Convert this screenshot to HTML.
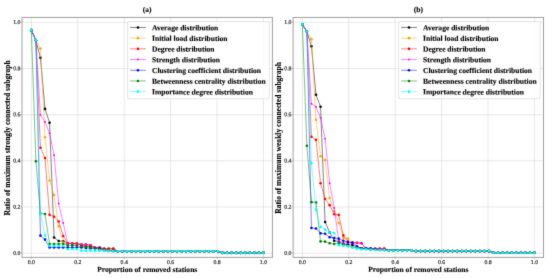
<!DOCTYPE html>
<html><head><meta charset="utf-8"><title>Figure</title>
<style>
html,body{margin:0;padding:0;background:#fff;}
svg{display:block;}
.bd{font-family:"Liberation Serif","Times New Roman",serif;font-weight:bold;font-size:7.55px;fill:#000;stroke:#000;stroke-width:0.12px;}
.tk{font-family:"Liberation Serif","Times New Roman",serif;font-size:5.8px;fill:#222;stroke:#222;stroke-width:0.18px;}
</style></head>
<body>
<svg width="550" height="278" viewBox="0 0 550 278">
<defs><filter id="bl" x="0" y="0" width="550" height="278" filterUnits="userSpaceOnUse" color-interpolation-filters="sRGB"><feConvolveMatrix order="3" kernelMatrix="0.01832 0.13534 0.01832 0.13534 1.00000 0.13534 0.01832 0.13534 0.01832" edgeMode="duplicate"/></filter></defs>
<g filter="url(#bl)">
<rect width="550" height="278" fill="#fff"/>
<line x1="31.35" y1="17.45" x2="31.35" y2="257.4" stroke="#d9d9d9" stroke-width="0.6"/>
<line x1="22" y1="253.2" x2="272.4" y2="253.2" stroke="#d9d9d9" stroke-width="0.6"/>
<line x1="77.77" y1="17.45" x2="77.77" y2="257.4" stroke="#d9d9d9" stroke-width="0.6"/>
<line x1="22" y1="207.02" x2="272.4" y2="207.02" stroke="#d9d9d9" stroke-width="0.6"/>
<line x1="124.19" y1="17.45" x2="124.19" y2="257.4" stroke="#d9d9d9" stroke-width="0.6"/>
<line x1="22" y1="160.84" x2="272.4" y2="160.84" stroke="#d9d9d9" stroke-width="0.6"/>
<line x1="170.61" y1="17.45" x2="170.61" y2="257.4" stroke="#d9d9d9" stroke-width="0.6"/>
<line x1="22" y1="114.66" x2="272.4" y2="114.66" stroke="#d9d9d9" stroke-width="0.6"/>
<line x1="217.03" y1="17.45" x2="217.03" y2="257.4" stroke="#d9d9d9" stroke-width="0.6"/>
<line x1="22" y1="68.48" x2="272.4" y2="68.48" stroke="#d9d9d9" stroke-width="0.6"/>
<line x1="263.45" y1="17.45" x2="263.45" y2="257.4" stroke="#d9d9d9" stroke-width="0.6"/>
<line x1="22" y1="22.3" x2="272.4" y2="22.3" stroke="#d9d9d9" stroke-width="0.6"/>
<clipPath id="clipa"><rect x="22" y="17.45" width="250.4" height="239.95"/></clipPath>
<g clip-path="url(#clipa)">
<polyline points="31.35,30.15 35.9,40.31 40.45,57.86 45,108.89 49.55,122.74 54.1,237.5 58.66,240.96 63.21,241.19 67.76,243.27 72.31,243.5 76.86,243.73 81.41,245.35 85.96,246.27 90.51,246.27 95.06,247.43 99.61,247.43 104.17,248.81 108.72,248.81 113.27,248.81 117.82,251.35 122.37,251.35 126.92,251.35 131.47,251.35 136.02,251.35 140.57,251.35 145.12,251.35 149.68,251.35 154.23,251.35 158.78,251.35 163.33,251.35 167.88,251.35 172.43,251.35 176.98,251.35 181.53,251.35 186.08,251.35 190.63,251.35 195.19,251.35 199.74,251.35 204.29,251.35 208.84,251.35 213.39,251.35 217.94,251.35 222.49,252.85 227.04,252.85 231.59,252.85 236.14,252.85 240.7,252.85 245.25,252.85 249.8,252.85 254.35,252.85 258.9,252.85 263.45,252.85" fill="none" stroke="#000000" stroke-width="0.5" stroke-linejoin="round"/>
<g fill="#000000"><circle cx="31.35" cy="30.15" r="1.3"/><circle cx="35.9" cy="40.31" r="1.3"/><circle cx="40.45" cy="57.86" r="1.3"/><circle cx="45" cy="108.89" r="1.3"/><circle cx="49.55" cy="122.74" r="1.3"/><circle cx="54.1" cy="237.5" r="1.3"/><circle cx="58.66" cy="240.96" r="1.3"/><circle cx="63.21" cy="241.19" r="1.3"/><circle cx="67.76" cy="243.27" r="1.3"/><circle cx="72.31" cy="243.5" r="1.3"/><circle cx="76.86" cy="243.73" r="1.3"/><circle cx="81.41" cy="245.35" r="1.3"/><circle cx="85.96" cy="246.27" r="1.3"/><circle cx="90.51" cy="246.27" r="1.3"/><circle cx="95.06" cy="247.43" r="1.3"/><circle cx="99.61" cy="247.43" r="1.3"/><circle cx="104.17" cy="248.81" r="1.3"/><circle cx="108.72" cy="248.81" r="1.3"/><circle cx="113.27" cy="248.81" r="1.3"/><circle cx="117.82" cy="251.35" r="1.3"/><circle cx="122.37" cy="251.35" r="1.3"/><circle cx="126.92" cy="251.35" r="1.3"/><circle cx="131.47" cy="251.35" r="1.3"/><circle cx="136.02" cy="251.35" r="1.3"/><circle cx="140.57" cy="251.35" r="1.3"/><circle cx="145.12" cy="251.35" r="1.3"/><circle cx="149.68" cy="251.35" r="1.3"/><circle cx="154.23" cy="251.35" r="1.3"/><circle cx="158.78" cy="251.35" r="1.3"/><circle cx="163.33" cy="251.35" r="1.3"/><circle cx="167.88" cy="251.35" r="1.3"/><circle cx="172.43" cy="251.35" r="1.3"/><circle cx="176.98" cy="251.35" r="1.3"/><circle cx="181.53" cy="251.35" r="1.3"/><circle cx="186.08" cy="251.35" r="1.3"/><circle cx="190.63" cy="251.35" r="1.3"/><circle cx="195.19" cy="251.35" r="1.3"/><circle cx="199.74" cy="251.35" r="1.3"/><circle cx="204.29" cy="251.35" r="1.3"/><circle cx="208.84" cy="251.35" r="1.3"/><circle cx="213.39" cy="251.35" r="1.3"/><circle cx="217.94" cy="251.35" r="1.3"/><circle cx="222.49" cy="252.85" r="1.3"/><circle cx="227.04" cy="252.85" r="1.3"/><circle cx="231.59" cy="252.85" r="1.3"/><circle cx="236.14" cy="252.85" r="1.3"/><circle cx="240.7" cy="252.85" r="1.3"/><circle cx="245.25" cy="252.85" r="1.3"/><circle cx="249.8" cy="252.85" r="1.3"/><circle cx="254.35" cy="252.85" r="1.3"/><circle cx="258.9" cy="252.85" r="1.3"/><circle cx="263.45" cy="252.85" r="1.3"/></g>
<polyline points="31.35,30.15 35.9,40.31 40.45,48.62 45,137.29 49.55,180.47 54.1,195.01 58.66,226.18 63.21,242.58 67.76,243.27 72.31,243.04 76.86,243.04 81.41,244.43 85.96,244.43 90.51,245.12 95.06,247.43 99.61,247.43 104.17,249.27 108.72,249.27 113.27,249.27 117.82,251.35 122.37,251.35 126.92,251.35 131.47,251.35 136.02,251.35 140.57,251.35 145.12,251.35 149.68,251.35 154.23,251.35 158.78,251.35 163.33,251.35 167.88,251.35 172.43,251.35 176.98,251.35 181.53,251.35 186.08,251.35 190.63,251.35 195.19,251.35 199.74,251.35 204.29,251.35 208.84,251.35 213.39,251.35 217.94,251.35 222.49,252.85 227.04,252.85 231.59,252.85 236.14,252.85 240.7,252.85 245.25,252.85 249.8,252.85 254.35,252.85 258.9,252.85 263.45,252.85" fill="none" stroke="#ffa500" stroke-width="0.5" stroke-linejoin="round"/>
<g fill="#ffa500"><circle cx="31.35" cy="30.15" r="1.3"/><circle cx="35.9" cy="40.31" r="1.3"/><circle cx="40.45" cy="48.62" r="1.3"/><circle cx="45" cy="137.29" r="1.3"/><circle cx="49.55" cy="180.47" r="1.3"/><circle cx="54.1" cy="195.01" r="1.3"/><circle cx="58.66" cy="226.18" r="1.3"/><circle cx="63.21" cy="242.58" r="1.3"/><circle cx="67.76" cy="243.27" r="1.3"/><circle cx="72.31" cy="243.04" r="1.3"/><circle cx="76.86" cy="243.04" r="1.3"/><circle cx="81.41" cy="244.43" r="1.3"/><circle cx="85.96" cy="244.43" r="1.3"/><circle cx="90.51" cy="245.12" r="1.3"/><circle cx="95.06" cy="247.43" r="1.3"/><circle cx="99.61" cy="247.43" r="1.3"/><circle cx="104.17" cy="249.27" r="1.3"/><circle cx="108.72" cy="249.27" r="1.3"/><circle cx="113.27" cy="249.27" r="1.3"/><circle cx="117.82" cy="251.35" r="1.3"/><circle cx="122.37" cy="251.35" r="1.3"/><circle cx="126.92" cy="251.35" r="1.3"/><circle cx="131.47" cy="251.35" r="1.3"/><circle cx="136.02" cy="251.35" r="1.3"/><circle cx="140.57" cy="251.35" r="1.3"/><circle cx="145.12" cy="251.35" r="1.3"/><circle cx="149.68" cy="251.35" r="1.3"/><circle cx="154.23" cy="251.35" r="1.3"/><circle cx="158.78" cy="251.35" r="1.3"/><circle cx="163.33" cy="251.35" r="1.3"/><circle cx="167.88" cy="251.35" r="1.3"/><circle cx="172.43" cy="251.35" r="1.3"/><circle cx="176.98" cy="251.35" r="1.3"/><circle cx="181.53" cy="251.35" r="1.3"/><circle cx="186.08" cy="251.35" r="1.3"/><circle cx="190.63" cy="251.35" r="1.3"/><circle cx="195.19" cy="251.35" r="1.3"/><circle cx="199.74" cy="251.35" r="1.3"/><circle cx="204.29" cy="251.35" r="1.3"/><circle cx="208.84" cy="251.35" r="1.3"/><circle cx="213.39" cy="251.35" r="1.3"/><circle cx="217.94" cy="251.35" r="1.3"/><circle cx="222.49" cy="252.85" r="1.3"/><circle cx="227.04" cy="252.85" r="1.3"/><circle cx="231.59" cy="252.85" r="1.3"/><circle cx="236.14" cy="252.85" r="1.3"/><circle cx="240.7" cy="252.85" r="1.3"/><circle cx="245.25" cy="252.85" r="1.3"/><circle cx="249.8" cy="252.85" r="1.3"/><circle cx="254.35" cy="252.85" r="1.3"/><circle cx="258.9" cy="252.85" r="1.3"/><circle cx="263.45" cy="252.85" r="1.3"/></g>
<polyline points="31.35,30.15 35.9,40.31 40.45,147.68 45,158.07 49.55,214.87 54.1,216.72 58.66,221.57 63.21,236.11 67.76,243.27 72.31,243.5 76.86,243.5 81.41,244.66 85.96,244.66 90.51,245.35 95.06,247.89 99.61,247.89 104.17,248.81 108.72,248.81 113.27,248.81 117.82,251.35 122.37,251.35 126.92,251.35 131.47,251.35 136.02,251.35 140.57,251.35 145.12,251.35 149.68,251.35 154.23,251.35 158.78,251.35 163.33,251.35 167.88,251.35 172.43,251.35 176.98,251.35 181.53,251.35 186.08,251.35 190.63,251.35 195.19,251.35 199.74,251.35 204.29,251.35 208.84,251.35 213.39,251.35 217.94,251.35 222.49,252.85 227.04,252.85 231.59,252.85 236.14,252.85 240.7,252.85 245.25,252.85 249.8,252.85 254.35,252.85 258.9,252.85 263.45,252.85" fill="none" stroke="#ff0000" stroke-width="0.5" stroke-linejoin="round"/>
<g fill="#ff0000"><circle cx="31.35" cy="30.15" r="1.3"/><circle cx="35.9" cy="40.31" r="1.3"/><circle cx="40.45" cy="147.68" r="1.3"/><circle cx="45" cy="158.07" r="1.3"/><circle cx="49.55" cy="214.87" r="1.3"/><circle cx="54.1" cy="216.72" r="1.3"/><circle cx="58.66" cy="221.57" r="1.3"/><circle cx="63.21" cy="236.11" r="1.3"/><circle cx="67.76" cy="243.27" r="1.3"/><circle cx="72.31" cy="243.5" r="1.3"/><circle cx="76.86" cy="243.5" r="1.3"/><circle cx="81.41" cy="244.66" r="1.3"/><circle cx="85.96" cy="244.66" r="1.3"/><circle cx="90.51" cy="245.35" r="1.3"/><circle cx="95.06" cy="247.89" r="1.3"/><circle cx="99.61" cy="247.89" r="1.3"/><circle cx="104.17" cy="248.81" r="1.3"/><circle cx="108.72" cy="248.81" r="1.3"/><circle cx="113.27" cy="248.81" r="1.3"/><circle cx="117.82" cy="251.35" r="1.3"/><circle cx="122.37" cy="251.35" r="1.3"/><circle cx="126.92" cy="251.35" r="1.3"/><circle cx="131.47" cy="251.35" r="1.3"/><circle cx="136.02" cy="251.35" r="1.3"/><circle cx="140.57" cy="251.35" r="1.3"/><circle cx="145.12" cy="251.35" r="1.3"/><circle cx="149.68" cy="251.35" r="1.3"/><circle cx="154.23" cy="251.35" r="1.3"/><circle cx="158.78" cy="251.35" r="1.3"/><circle cx="163.33" cy="251.35" r="1.3"/><circle cx="167.88" cy="251.35" r="1.3"/><circle cx="172.43" cy="251.35" r="1.3"/><circle cx="176.98" cy="251.35" r="1.3"/><circle cx="181.53" cy="251.35" r="1.3"/><circle cx="186.08" cy="251.35" r="1.3"/><circle cx="190.63" cy="251.35" r="1.3"/><circle cx="195.19" cy="251.35" r="1.3"/><circle cx="199.74" cy="251.35" r="1.3"/><circle cx="204.29" cy="251.35" r="1.3"/><circle cx="208.84" cy="251.35" r="1.3"/><circle cx="213.39" cy="251.35" r="1.3"/><circle cx="217.94" cy="251.35" r="1.3"/><circle cx="222.49" cy="252.85" r="1.3"/><circle cx="227.04" cy="252.85" r="1.3"/><circle cx="231.59" cy="252.85" r="1.3"/><circle cx="236.14" cy="252.85" r="1.3"/><circle cx="240.7" cy="252.85" r="1.3"/><circle cx="245.25" cy="252.85" r="1.3"/><circle cx="249.8" cy="252.85" r="1.3"/><circle cx="254.35" cy="252.85" r="1.3"/><circle cx="258.9" cy="252.85" r="1.3"/><circle cx="263.45" cy="252.85" r="1.3"/></g>
<polyline points="31.35,30.15 35.9,40.31 40.45,114.89 45,122.05 49.55,133.13 54.1,155.3 58.66,203.56 63.21,222.95 67.76,243.27 72.31,243.96 76.86,243.96 81.41,244.31 85.96,244.31 90.51,244.89 95.06,247.43 99.61,247.66 104.17,250.66 108.72,250.66 113.27,250.66 117.82,251.35 122.37,251.35 126.92,251.35 131.47,251.35 136.02,251.35 140.57,251.35 145.12,251.35 149.68,251.35 154.23,251.35 158.78,251.35 163.33,251.35 167.88,251.35 172.43,251.35 176.98,251.35 181.53,251.35 186.08,251.35 190.63,251.35 195.19,251.35 199.74,251.35 204.29,251.35 208.84,251.35 213.39,251.35 217.94,251.35 222.49,252.85 227.04,252.85 231.59,252.85 236.14,252.85 240.7,252.85 245.25,252.85 249.8,252.85 254.35,252.85 258.9,252.85 263.45,252.85" fill="none" stroke="#ff00ff" stroke-width="0.5" stroke-linejoin="round"/>
<g fill="#ff00ff"><circle cx="31.35" cy="30.15" r="0.95"/><circle cx="35.9" cy="40.31" r="0.95"/><circle cx="40.45" cy="114.89" r="0.95"/><circle cx="45" cy="122.05" r="0.95"/><circle cx="49.55" cy="133.13" r="0.95"/><circle cx="54.1" cy="155.3" r="0.95"/><circle cx="58.66" cy="203.56" r="0.95"/><circle cx="63.21" cy="222.95" r="0.95"/><circle cx="67.76" cy="243.27" r="0.95"/><circle cx="72.31" cy="243.96" r="0.95"/><circle cx="76.86" cy="243.96" r="0.95"/><circle cx="81.41" cy="244.31" r="0.95"/><circle cx="85.96" cy="244.31" r="0.95"/><circle cx="90.51" cy="244.89" r="0.95"/><circle cx="95.06" cy="247.43" r="0.95"/><circle cx="99.61" cy="247.66" r="0.95"/><circle cx="104.17" cy="250.66" r="0.95"/><circle cx="108.72" cy="250.66" r="0.95"/><circle cx="113.27" cy="250.66" r="0.95"/><circle cx="117.82" cy="251.35" r="0.95"/><circle cx="122.37" cy="251.35" r="0.95"/><circle cx="126.92" cy="251.35" r="0.95"/><circle cx="131.47" cy="251.35" r="0.95"/><circle cx="136.02" cy="251.35" r="0.95"/><circle cx="140.57" cy="251.35" r="0.95"/><circle cx="145.12" cy="251.35" r="0.95"/><circle cx="149.68" cy="251.35" r="0.95"/><circle cx="154.23" cy="251.35" r="0.95"/><circle cx="158.78" cy="251.35" r="0.95"/><circle cx="163.33" cy="251.35" r="0.95"/><circle cx="167.88" cy="251.35" r="0.95"/><circle cx="172.43" cy="251.35" r="0.95"/><circle cx="176.98" cy="251.35" r="0.95"/><circle cx="181.53" cy="251.35" r="0.95"/><circle cx="186.08" cy="251.35" r="0.95"/><circle cx="190.63" cy="251.35" r="0.95"/><circle cx="195.19" cy="251.35" r="0.95"/><circle cx="199.74" cy="251.35" r="0.95"/><circle cx="204.29" cy="251.35" r="0.95"/><circle cx="208.84" cy="251.35" r="0.95"/><circle cx="213.39" cy="251.35" r="0.95"/><circle cx="217.94" cy="251.35" r="0.95"/><circle cx="222.49" cy="252.85" r="0.95"/><circle cx="227.04" cy="252.85" r="0.95"/><circle cx="231.59" cy="252.85" r="0.95"/><circle cx="236.14" cy="252.85" r="0.95"/><circle cx="240.7" cy="252.85" r="0.95"/><circle cx="245.25" cy="252.85" r="0.95"/><circle cx="249.8" cy="252.85" r="0.95"/><circle cx="254.35" cy="252.85" r="0.95"/><circle cx="258.9" cy="252.85" r="0.95"/><circle cx="263.45" cy="252.85" r="0.95"/></g>
<polyline points="31.35,30.15 35.9,40.31 40.45,235.65 45,239.58 49.55,247.43 54.1,247.43 58.66,247.43 63.21,247.43 67.76,247.43 72.31,247.43 76.86,247.43 81.41,247.43 85.96,247.89 90.51,248.35 95.06,248.35 99.61,248.35 104.17,249.74 108.72,250.43 113.27,250.89 117.82,251.35 122.37,251.35 126.92,251.35 131.47,251.35 136.02,251.35 140.57,251.35 145.12,251.35 149.68,251.35 154.23,251.35 158.78,251.35 163.33,251.35 167.88,251.35 172.43,251.35 176.98,251.35 181.53,251.35 186.08,251.35 190.63,251.35 195.19,251.35 199.74,251.35 204.29,251.35 208.84,251.35 213.39,251.35 217.94,251.35 222.49,252.85 227.04,252.85 231.59,252.85 236.14,252.85 240.7,252.85 245.25,252.85 249.8,252.85 254.35,252.85 258.9,252.85 263.45,252.85" fill="none" stroke="#0000ff" stroke-width="0.5" stroke-linejoin="round"/>
<g fill="#0000ff"><circle cx="31.35" cy="30.15" r="1.3"/><circle cx="35.9" cy="40.31" r="1.3"/><circle cx="40.45" cy="235.65" r="1.3"/><circle cx="45" cy="239.58" r="1.3"/><circle cx="49.55" cy="247.43" r="1.3"/><circle cx="54.1" cy="247.43" r="1.3"/><circle cx="58.66" cy="247.43" r="1.3"/><circle cx="63.21" cy="247.43" r="1.3"/><circle cx="67.76" cy="247.43" r="1.3"/><circle cx="72.31" cy="247.43" r="1.3"/><circle cx="76.86" cy="247.43" r="1.3"/><circle cx="81.41" cy="247.43" r="1.3"/><circle cx="85.96" cy="247.89" r="1.3"/><circle cx="90.51" cy="248.35" r="1.3"/><circle cx="95.06" cy="248.35" r="1.3"/><circle cx="99.61" cy="248.35" r="1.3"/><circle cx="104.17" cy="249.74" r="1.3"/><circle cx="108.72" cy="250.43" r="1.3"/><circle cx="113.27" cy="250.89" r="1.3"/><circle cx="117.82" cy="251.35" r="1.3"/><circle cx="122.37" cy="251.35" r="1.3"/><circle cx="126.92" cy="251.35" r="1.3"/><circle cx="131.47" cy="251.35" r="1.3"/><circle cx="136.02" cy="251.35" r="1.3"/><circle cx="140.57" cy="251.35" r="1.3"/><circle cx="145.12" cy="251.35" r="1.3"/><circle cx="149.68" cy="251.35" r="1.3"/><circle cx="154.23" cy="251.35" r="1.3"/><circle cx="158.78" cy="251.35" r="1.3"/><circle cx="163.33" cy="251.35" r="1.3"/><circle cx="167.88" cy="251.35" r="1.3"/><circle cx="172.43" cy="251.35" r="1.3"/><circle cx="176.98" cy="251.35" r="1.3"/><circle cx="181.53" cy="251.35" r="1.3"/><circle cx="186.08" cy="251.35" r="1.3"/><circle cx="190.63" cy="251.35" r="1.3"/><circle cx="195.19" cy="251.35" r="1.3"/><circle cx="199.74" cy="251.35" r="1.3"/><circle cx="204.29" cy="251.35" r="1.3"/><circle cx="208.84" cy="251.35" r="1.3"/><circle cx="213.39" cy="251.35" r="1.3"/><circle cx="217.94" cy="251.35" r="1.3"/><circle cx="222.49" cy="252.85" r="1.3"/><circle cx="227.04" cy="252.85" r="1.3"/><circle cx="231.59" cy="252.85" r="1.3"/><circle cx="236.14" cy="252.85" r="1.3"/><circle cx="240.7" cy="252.85" r="1.3"/><circle cx="245.25" cy="252.85" r="1.3"/><circle cx="249.8" cy="252.85" r="1.3"/><circle cx="254.35" cy="252.85" r="1.3"/><circle cx="258.9" cy="252.85" r="1.3"/><circle cx="263.45" cy="252.85" r="1.3"/></g>
<polyline points="31.35,30.15 35.9,161.3 40.45,213.49 45,213.95 49.55,243.96 54.1,243.96 58.66,243.96 63.21,243.96 67.76,245.35 72.31,245.35 76.86,245.81 81.41,246.5 85.96,246.73 90.51,247.43 95.06,248.58 99.61,249.27 104.17,250.66 108.72,250.89 113.27,251.12 117.82,251.35 122.37,251.35 126.92,251.35 131.47,251.35 136.02,251.35 140.57,251.35 145.12,251.35 149.68,251.35 154.23,251.35 158.78,251.35 163.33,251.35 167.88,251.35 172.43,251.35 176.98,251.35 181.53,251.35 186.08,251.35 190.63,251.35 195.19,251.35 199.74,251.35 204.29,251.35 208.84,251.35 213.39,251.35 217.94,251.35 222.49,252.85 227.04,252.85 231.59,252.85 236.14,252.85 240.7,252.85 245.25,252.85 249.8,252.85 254.35,252.85 258.9,252.85 263.45,252.85" fill="none" stroke="#008000" stroke-width="0.5" stroke-linejoin="round"/>
<g fill="#008000"><circle cx="31.35" cy="30.15" r="1.3"/><circle cx="35.9" cy="161.3" r="1.3"/><circle cx="40.45" cy="213.49" r="1.3"/><circle cx="45" cy="213.95" r="1.3"/><circle cx="49.55" cy="243.96" r="1.3"/><circle cx="54.1" cy="243.96" r="1.3"/><circle cx="58.66" cy="243.96" r="1.3"/><circle cx="63.21" cy="243.96" r="1.3"/><circle cx="67.76" cy="245.35" r="1.3"/><circle cx="72.31" cy="245.35" r="1.3"/><circle cx="76.86" cy="245.81" r="1.3"/><circle cx="81.41" cy="246.5" r="1.3"/><circle cx="85.96" cy="246.73" r="1.3"/><circle cx="90.51" cy="247.43" r="1.3"/><circle cx="95.06" cy="248.58" r="1.3"/><circle cx="99.61" cy="249.27" r="1.3"/><circle cx="104.17" cy="250.66" r="1.3"/><circle cx="108.72" cy="250.89" r="1.3"/><circle cx="113.27" cy="251.12" r="1.3"/><circle cx="117.82" cy="251.35" r="1.3"/><circle cx="122.37" cy="251.35" r="1.3"/><circle cx="126.92" cy="251.35" r="1.3"/><circle cx="131.47" cy="251.35" r="1.3"/><circle cx="136.02" cy="251.35" r="1.3"/><circle cx="140.57" cy="251.35" r="1.3"/><circle cx="145.12" cy="251.35" r="1.3"/><circle cx="149.68" cy="251.35" r="1.3"/><circle cx="154.23" cy="251.35" r="1.3"/><circle cx="158.78" cy="251.35" r="1.3"/><circle cx="163.33" cy="251.35" r="1.3"/><circle cx="167.88" cy="251.35" r="1.3"/><circle cx="172.43" cy="251.35" r="1.3"/><circle cx="176.98" cy="251.35" r="1.3"/><circle cx="181.53" cy="251.35" r="1.3"/><circle cx="186.08" cy="251.35" r="1.3"/><circle cx="190.63" cy="251.35" r="1.3"/><circle cx="195.19" cy="251.35" r="1.3"/><circle cx="199.74" cy="251.35" r="1.3"/><circle cx="204.29" cy="251.35" r="1.3"/><circle cx="208.84" cy="251.35" r="1.3"/><circle cx="213.39" cy="251.35" r="1.3"/><circle cx="217.94" cy="251.35" r="1.3"/><circle cx="222.49" cy="252.85" r="1.3"/><circle cx="227.04" cy="252.85" r="1.3"/><circle cx="231.59" cy="252.85" r="1.3"/><circle cx="236.14" cy="252.85" r="1.3"/><circle cx="240.7" cy="252.85" r="1.3"/><circle cx="245.25" cy="252.85" r="1.3"/><circle cx="249.8" cy="252.85" r="1.3"/><circle cx="254.35" cy="252.85" r="1.3"/><circle cx="258.9" cy="252.85" r="1.3"/><circle cx="263.45" cy="252.85" r="1.3"/></g>
<polyline points="31.35,30.15 35.9,40.31 40.45,213.49 45,235.19 49.55,246.04 54.1,246.04 58.66,246.04 63.21,246.04 67.76,249.27 72.31,249.04 76.86,249.04 81.41,250.66 85.96,250.66 90.51,250.66 95.06,250.66 99.61,250.66 104.17,250.66 108.72,250.89 113.27,251.12 117.82,251.35 122.37,251.35 126.92,251.35 131.47,251.35 136.02,251.35 140.57,251.35 145.12,251.35 149.68,251.35 154.23,251.35 158.78,251.35 163.33,251.35 167.88,251.35 172.43,251.35 176.98,251.35 181.53,251.35 186.08,251.35 190.63,251.35 195.19,251.35 199.74,251.35 204.29,251.35 208.84,251.35 213.39,251.35 217.94,251.35 222.49,252.85 227.04,252.85 231.59,252.85 236.14,252.85 240.7,252.85 245.25,252.85 249.8,252.85 254.35,252.85 258.9,252.85 263.45,252.85" fill="none" stroke="#00ffff" stroke-width="0.5" stroke-linejoin="round"/>
<g fill="#00ffff"><circle cx="31.35" cy="30.15" r="1.3"/><circle cx="35.9" cy="40.31" r="1.3"/><circle cx="40.45" cy="213.49" r="1.3"/><circle cx="45" cy="235.19" r="1.3"/><circle cx="49.55" cy="246.04" r="1.3"/><circle cx="54.1" cy="246.04" r="1.3"/><circle cx="58.66" cy="246.04" r="1.3"/><circle cx="63.21" cy="246.04" r="1.3"/><circle cx="67.76" cy="249.27" r="1.3"/><circle cx="72.31" cy="249.04" r="1.3"/><circle cx="76.86" cy="249.04" r="1.3"/><circle cx="81.41" cy="250.66" r="1.3"/><circle cx="85.96" cy="250.66" r="1.3"/><circle cx="90.51" cy="250.66" r="1.3"/><circle cx="95.06" cy="250.66" r="1.3"/><circle cx="99.61" cy="250.66" r="1.3"/><circle cx="104.17" cy="250.66" r="1.3"/><circle cx="108.72" cy="250.89" r="1.3"/><circle cx="113.27" cy="251.12" r="1.3"/><circle cx="117.82" cy="251.35" r="1.3"/><circle cx="122.37" cy="251.35" r="1.3"/><circle cx="126.92" cy="251.35" r="1.3"/><circle cx="131.47" cy="251.35" r="1.3"/><circle cx="136.02" cy="251.35" r="1.3"/><circle cx="140.57" cy="251.35" r="1.3"/><circle cx="145.12" cy="251.35" r="1.3"/><circle cx="149.68" cy="251.35" r="1.3"/><circle cx="154.23" cy="251.35" r="1.3"/><circle cx="158.78" cy="251.35" r="1.3"/><circle cx="163.33" cy="251.35" r="1.3"/><circle cx="167.88" cy="251.35" r="1.3"/><circle cx="172.43" cy="251.35" r="1.3"/><circle cx="176.98" cy="251.35" r="1.3"/><circle cx="181.53" cy="251.35" r="1.3"/><circle cx="186.08" cy="251.35" r="1.3"/><circle cx="190.63" cy="251.35" r="1.3"/><circle cx="195.19" cy="251.35" r="1.3"/><circle cx="199.74" cy="251.35" r="1.3"/><circle cx="204.29" cy="251.35" r="1.3"/><circle cx="208.84" cy="251.35" r="1.3"/><circle cx="213.39" cy="251.35" r="1.3"/><circle cx="217.94" cy="251.35" r="1.3"/><circle cx="222.49" cy="252.85" r="1.3"/><circle cx="227.04" cy="252.85" r="1.3"/><circle cx="231.59" cy="252.85" r="1.3"/><circle cx="236.14" cy="252.85" r="1.3"/><circle cx="240.7" cy="252.85" r="1.3"/><circle cx="245.25" cy="252.85" r="1.3"/><circle cx="249.8" cy="252.85" r="1.3"/><circle cx="254.35" cy="252.85" r="1.3"/><circle cx="258.9" cy="252.85" r="1.3"/><circle cx="263.45" cy="252.85" r="1.3"/></g>
</g>
<rect x="22" y="17.45" width="250.4" height="239.95" fill="none" stroke="#a0a0a0" stroke-width="1.0"/>
<line x1="31.35" y1="257.4" x2="31.35" y2="259" stroke="#a0a0a0" stroke-width="0.6"/>
<line x1="22" y1="253.2" x2="20.4" y2="253.2" stroke="#a0a0a0" stroke-width="0.6"/>
<text transform="translate(31.35,264) rotate(0.05)" class="tk" text-anchor="middle">0.0</text>
<text transform="translate(20.4,254.9) rotate(0.05)" class="tk" text-anchor="end">0.0</text>
<line x1="77.77" y1="257.4" x2="77.77" y2="259" stroke="#a0a0a0" stroke-width="0.6"/>
<line x1="22" y1="207.02" x2="20.4" y2="207.02" stroke="#a0a0a0" stroke-width="0.6"/>
<text transform="translate(77.77,264) rotate(0.05)" class="tk" text-anchor="middle">0.2</text>
<text transform="translate(20.4,208.72) rotate(0.05)" class="tk" text-anchor="end">0.2</text>
<line x1="124.19" y1="257.4" x2="124.19" y2="259" stroke="#a0a0a0" stroke-width="0.6"/>
<line x1="22" y1="160.84" x2="20.4" y2="160.84" stroke="#a0a0a0" stroke-width="0.6"/>
<text transform="translate(124.19,264) rotate(0.05)" class="tk" text-anchor="middle">0.4</text>
<text transform="translate(20.4,162.54) rotate(0.05)" class="tk" text-anchor="end">0.4</text>
<line x1="170.61" y1="257.4" x2="170.61" y2="259" stroke="#a0a0a0" stroke-width="0.6"/>
<line x1="22" y1="114.66" x2="20.4" y2="114.66" stroke="#a0a0a0" stroke-width="0.6"/>
<text transform="translate(170.61,264) rotate(0.05)" class="tk" text-anchor="middle">0.6</text>
<text transform="translate(20.4,116.36) rotate(0.05)" class="tk" text-anchor="end">0.6</text>
<line x1="217.03" y1="257.4" x2="217.03" y2="259" stroke="#a0a0a0" stroke-width="0.6"/>
<line x1="22" y1="68.48" x2="20.4" y2="68.48" stroke="#a0a0a0" stroke-width="0.6"/>
<text transform="translate(217.03,264) rotate(0.05)" class="tk" text-anchor="middle">0.8</text>
<text transform="translate(20.4,70.18) rotate(0.05)" class="tk" text-anchor="end">0.8</text>
<line x1="263.45" y1="257.4" x2="263.45" y2="259" stroke="#a0a0a0" stroke-width="0.6"/>
<line x1="22" y1="22.3" x2="20.4" y2="22.3" stroke="#a0a0a0" stroke-width="0.6"/>
<text transform="translate(263.45,264) rotate(0.05)" class="tk" text-anchor="middle">1.0</text>
<text transform="translate(20.4,24) rotate(0.05)" class="tk" text-anchor="end">1.0</text>
<text transform="translate(147.2,11.9) rotate(0.05)" class="bd" text-anchor="middle">(a)</text>
<text transform="translate(147.2,271.9) rotate(0.05)" class="bd" text-anchor="middle">Proportion of removed stations</text>
<text transform="translate(10.1,137.92) rotate(-90)" class="bd" text-anchor="middle">Ratio of maximum strongly connected subgraph</text>
<rect x="127.6" y="21.6" width="141.7" height="77.2" rx="1.8" fill="#ffffff" fill-opacity="0.8" stroke="#d0d0d0" stroke-width="0.6"/>
<line x1="130.1" y1="27.45" x2="145.9" y2="27.45" stroke="#000000" stroke-width="0.5"/>
<circle cx="138" cy="27.45" r="1.3" fill="#000000"/>
<text transform="translate(152,30.15) rotate(0.05)" class="bd">Average distribution</text>
<line x1="130.1" y1="38.15" x2="145.9" y2="38.15" stroke="#ffa500" stroke-width="0.5"/>
<circle cx="138" cy="38.15" r="1.3" fill="#ffa500"/>
<text transform="translate(152,40.85) rotate(0.05)" class="bd">Initial load distribution</text>
<line x1="130.1" y1="48.85" x2="145.9" y2="48.85" stroke="#ff0000" stroke-width="0.5"/>
<circle cx="138" cy="48.85" r="1.3" fill="#ff0000"/>
<text transform="translate(152,51.55) rotate(0.05)" class="bd">Degree distribution</text>
<line x1="130.1" y1="59.55" x2="145.9" y2="59.55" stroke="#ff00ff" stroke-width="0.5"/>
<circle cx="138" cy="59.55" r="0.95" fill="#ff00ff"/>
<text transform="translate(152,62.25) rotate(0.05)" class="bd">Strength distribution</text>
<line x1="130.1" y1="70.25" x2="145.9" y2="70.25" stroke="#0000ff" stroke-width="0.5"/>
<circle cx="138" cy="70.25" r="1.3" fill="#0000ff"/>
<text transform="translate(152,72.95) rotate(0.05)" class="bd">Clustering coefficient distribution</text>
<line x1="130.1" y1="80.95" x2="145.9" y2="80.95" stroke="#008000" stroke-width="0.5"/>
<circle cx="138" cy="80.95" r="1.3" fill="#008000"/>
<text transform="translate(152,83.65) rotate(0.05)" class="bd">Betweenness centrality distribution</text>
<line x1="130.1" y1="91.65" x2="145.9" y2="91.65" stroke="#00ffff" stroke-width="0.5"/>
<circle cx="138" cy="91.65" r="1.3" fill="#00ffff"/>
<text transform="translate(152,94.35) rotate(0.05)" class="bd">Importance degree distribution</text>
<line x1="302.35" y1="17.45" x2="302.35" y2="257.4" stroke="#d9d9d9" stroke-width="0.6"/>
<line x1="293.1" y1="253.2" x2="543.5" y2="253.2" stroke="#d9d9d9" stroke-width="0.6"/>
<line x1="348.77" y1="17.45" x2="348.77" y2="257.4" stroke="#d9d9d9" stroke-width="0.6"/>
<line x1="293.1" y1="207.02" x2="543.5" y2="207.02" stroke="#d9d9d9" stroke-width="0.6"/>
<line x1="395.19" y1="17.45" x2="395.19" y2="257.4" stroke="#d9d9d9" stroke-width="0.6"/>
<line x1="293.1" y1="160.84" x2="543.5" y2="160.84" stroke="#d9d9d9" stroke-width="0.6"/>
<line x1="441.61" y1="17.45" x2="441.61" y2="257.4" stroke="#d9d9d9" stroke-width="0.6"/>
<line x1="293.1" y1="114.66" x2="543.5" y2="114.66" stroke="#d9d9d9" stroke-width="0.6"/>
<line x1="488.03" y1="17.45" x2="488.03" y2="257.4" stroke="#d9d9d9" stroke-width="0.6"/>
<line x1="293.1" y1="68.48" x2="543.5" y2="68.48" stroke="#d9d9d9" stroke-width="0.6"/>
<line x1="534.45" y1="17.45" x2="534.45" y2="257.4" stroke="#d9d9d9" stroke-width="0.6"/>
<line x1="293.1" y1="22.3" x2="543.5" y2="22.3" stroke="#d9d9d9" stroke-width="0.6"/>
<clipPath id="clipb"><rect x="293.1" y="17.45" width="250.4" height="239.95"/></clipPath>
<g clip-path="url(#clipb)">
<polyline points="302.35,24.38 306.9,31.54 311.45,46.31 316,94.8 320.55,106.81 325.1,222.03 329.66,232.42 334.21,240.73 338.76,241.65 343.31,243.96 347.86,244.43 352.41,245.12 356.96,246.73 361.51,248.35 366.06,248.58 370.61,249.04 375.17,249.04 379.72,249.04 384.27,249.04 388.82,250.2 393.37,250.2 397.92,250.2 402.47,250.2 407.02,250.2 411.57,250.31 416.12,251.12 420.68,251.12 425.23,251.12 429.78,251.12 434.33,251.12 438.88,251.12 443.43,251.12 447.98,251.12 452.53,251.12 457.08,251.12 461.63,251.12 466.19,251.12 470.74,251.12 475.29,251.12 479.84,251.12 484.39,251.12 488.94,251.12 493.49,252.74 498.04,252.74 502.59,252.74 507.14,252.74 511.7,252.74 516.25,252.74 520.8,252.74 525.35,252.74 529.9,252.74 534.45,252.74" fill="none" stroke="#000000" stroke-width="0.5" stroke-linejoin="round"/>
<g fill="#000000"><circle cx="302.35" cy="24.38" r="1.3"/><circle cx="306.9" cy="31.54" r="1.3"/><circle cx="311.45" cy="46.31" r="1.3"/><circle cx="316" cy="94.8" r="1.3"/><circle cx="320.55" cy="106.81" r="1.3"/><circle cx="325.1" cy="222.03" r="1.3"/><circle cx="329.66" cy="232.42" r="1.3"/><circle cx="334.21" cy="240.73" r="1.3"/><circle cx="338.76" cy="241.65" r="1.3"/><circle cx="343.31" cy="243.96" r="1.3"/><circle cx="347.86" cy="244.43" r="1.3"/><circle cx="352.41" cy="245.12" r="1.3"/><circle cx="356.96" cy="246.73" r="1.3"/><circle cx="361.51" cy="248.35" r="1.3"/><circle cx="366.06" cy="248.58" r="1.3"/><circle cx="370.61" cy="249.04" r="1.3"/><circle cx="375.17" cy="249.04" r="1.3"/><circle cx="379.72" cy="249.04" r="1.3"/><circle cx="384.27" cy="249.04" r="1.3"/><circle cx="388.82" cy="250.2" r="1.3"/><circle cx="393.37" cy="250.2" r="1.3"/><circle cx="397.92" cy="250.2" r="1.3"/><circle cx="402.47" cy="250.2" r="1.3"/><circle cx="407.02" cy="250.2" r="1.3"/><circle cx="411.57" cy="250.31" r="1.3"/><circle cx="416.12" cy="251.12" r="1.3"/><circle cx="420.68" cy="251.12" r="1.3"/><circle cx="425.23" cy="251.12" r="1.3"/><circle cx="429.78" cy="251.12" r="1.3"/><circle cx="434.33" cy="251.12" r="1.3"/><circle cx="438.88" cy="251.12" r="1.3"/><circle cx="443.43" cy="251.12" r="1.3"/><circle cx="447.98" cy="251.12" r="1.3"/><circle cx="452.53" cy="251.12" r="1.3"/><circle cx="457.08" cy="251.12" r="1.3"/><circle cx="461.63" cy="251.12" r="1.3"/><circle cx="466.19" cy="251.12" r="1.3"/><circle cx="470.74" cy="251.12" r="1.3"/><circle cx="475.29" cy="251.12" r="1.3"/><circle cx="479.84" cy="251.12" r="1.3"/><circle cx="484.39" cy="251.12" r="1.3"/><circle cx="488.94" cy="251.12" r="1.3"/><circle cx="493.49" cy="252.74" r="1.3"/><circle cx="498.04" cy="252.74" r="1.3"/><circle cx="502.59" cy="252.74" r="1.3"/><circle cx="507.14" cy="252.74" r="1.3"/><circle cx="511.7" cy="252.74" r="1.3"/><circle cx="516.25" cy="252.74" r="1.3"/><circle cx="520.8" cy="252.74" r="1.3"/><circle cx="525.35" cy="252.74" r="1.3"/><circle cx="529.9" cy="252.74" r="1.3"/><circle cx="534.45" cy="252.74" r="1.3"/></g>
<polyline points="302.35,24.38 306.9,31.54 311.45,39.16 316,119.74 320.55,156.22 325.1,159.92 329.66,198.01 334.21,211.41 338.76,222.95 343.31,237.96 347.86,238.65 352.41,242.81 356.96,242.81 361.51,243.27 366.06,248.58 370.61,249.04 375.17,248.81 379.72,248.81 384.27,248.81 388.82,250.2 393.37,250.2 397.92,250.2 402.47,250.2 407.02,250.2 411.57,250.31 416.12,251.12 420.68,251.12 425.23,251.12 429.78,251.12 434.33,251.12 438.88,251.12 443.43,251.12 447.98,251.12 452.53,251.12 457.08,251.12 461.63,251.12 466.19,251.12 470.74,251.12 475.29,251.12 479.84,251.12 484.39,251.12 488.94,251.12 493.49,252.74 498.04,252.74 502.59,252.74 507.14,252.74 511.7,252.74 516.25,252.74 520.8,252.74 525.35,252.74 529.9,252.74 534.45,252.74" fill="none" stroke="#ffa500" stroke-width="0.5" stroke-linejoin="round"/>
<g fill="#ffa500"><circle cx="302.35" cy="24.38" r="1.3"/><circle cx="306.9" cy="31.54" r="1.3"/><circle cx="311.45" cy="39.16" r="1.3"/><circle cx="316" cy="119.74" r="1.3"/><circle cx="320.55" cy="156.22" r="1.3"/><circle cx="325.1" cy="159.92" r="1.3"/><circle cx="329.66" cy="198.01" r="1.3"/><circle cx="334.21" cy="211.41" r="1.3"/><circle cx="338.76" cy="222.95" r="1.3"/><circle cx="343.31" cy="237.96" r="1.3"/><circle cx="347.86" cy="238.65" r="1.3"/><circle cx="352.41" cy="242.81" r="1.3"/><circle cx="356.96" cy="242.81" r="1.3"/><circle cx="361.51" cy="243.27" r="1.3"/><circle cx="366.06" cy="248.58" r="1.3"/><circle cx="370.61" cy="249.04" r="1.3"/><circle cx="375.17" cy="248.81" r="1.3"/><circle cx="379.72" cy="248.81" r="1.3"/><circle cx="384.27" cy="248.81" r="1.3"/><circle cx="388.82" cy="250.2" r="1.3"/><circle cx="393.37" cy="250.2" r="1.3"/><circle cx="397.92" cy="250.2" r="1.3"/><circle cx="402.47" cy="250.2" r="1.3"/><circle cx="407.02" cy="250.2" r="1.3"/><circle cx="411.57" cy="250.31" r="1.3"/><circle cx="416.12" cy="251.12" r="1.3"/><circle cx="420.68" cy="251.12" r="1.3"/><circle cx="425.23" cy="251.12" r="1.3"/><circle cx="429.78" cy="251.12" r="1.3"/><circle cx="434.33" cy="251.12" r="1.3"/><circle cx="438.88" cy="251.12" r="1.3"/><circle cx="443.43" cy="251.12" r="1.3"/><circle cx="447.98" cy="251.12" r="1.3"/><circle cx="452.53" cy="251.12" r="1.3"/><circle cx="457.08" cy="251.12" r="1.3"/><circle cx="461.63" cy="251.12" r="1.3"/><circle cx="466.19" cy="251.12" r="1.3"/><circle cx="470.74" cy="251.12" r="1.3"/><circle cx="475.29" cy="251.12" r="1.3"/><circle cx="479.84" cy="251.12" r="1.3"/><circle cx="484.39" cy="251.12" r="1.3"/><circle cx="488.94" cy="251.12" r="1.3"/><circle cx="493.49" cy="252.74" r="1.3"/><circle cx="498.04" cy="252.74" r="1.3"/><circle cx="502.59" cy="252.74" r="1.3"/><circle cx="507.14" cy="252.74" r="1.3"/><circle cx="511.7" cy="252.74" r="1.3"/><circle cx="516.25" cy="252.74" r="1.3"/><circle cx="520.8" cy="252.74" r="1.3"/><circle cx="525.35" cy="252.74" r="1.3"/><circle cx="529.9" cy="252.74" r="1.3"/><circle cx="534.45" cy="252.74" r="1.3"/></g>
<polyline points="302.35,24.38 306.9,31.54 311.45,136.83 316,139.83 320.55,183.24 325.1,198.94 329.66,205.17 334.21,214.18 338.76,214.87 343.31,235.42 347.86,241.65 352.41,242.81 356.96,242.81 361.51,243.27 366.06,248.58 370.61,248.81 375.17,248.58 379.72,248.58 384.27,248.58 388.82,250.2 393.37,250.2 397.92,250.2 402.47,250.2 407.02,250.2 411.57,250.31 416.12,251.12 420.68,251.12 425.23,251.12 429.78,251.12 434.33,251.12 438.88,251.12 443.43,251.12 447.98,251.12 452.53,251.12 457.08,251.12 461.63,251.12 466.19,251.12 470.74,251.12 475.29,251.12 479.84,251.12 484.39,251.12 488.94,251.12 493.49,252.74 498.04,252.74 502.59,252.74 507.14,252.74 511.7,252.74 516.25,252.74 520.8,252.74 525.35,252.74 529.9,252.74 534.45,252.74" fill="none" stroke="#ff0000" stroke-width="0.5" stroke-linejoin="round"/>
<g fill="#ff0000"><circle cx="302.35" cy="24.38" r="1.3"/><circle cx="306.9" cy="31.54" r="1.3"/><circle cx="311.45" cy="136.83" r="1.3"/><circle cx="316" cy="139.83" r="1.3"/><circle cx="320.55" cy="183.24" r="1.3"/><circle cx="325.1" cy="198.94" r="1.3"/><circle cx="329.66" cy="205.17" r="1.3"/><circle cx="334.21" cy="214.18" r="1.3"/><circle cx="338.76" cy="214.87" r="1.3"/><circle cx="343.31" cy="235.42" r="1.3"/><circle cx="347.86" cy="241.65" r="1.3"/><circle cx="352.41" cy="242.81" r="1.3"/><circle cx="356.96" cy="242.81" r="1.3"/><circle cx="361.51" cy="243.27" r="1.3"/><circle cx="366.06" cy="248.58" r="1.3"/><circle cx="370.61" cy="248.81" r="1.3"/><circle cx="375.17" cy="248.58" r="1.3"/><circle cx="379.72" cy="248.58" r="1.3"/><circle cx="384.27" cy="248.58" r="1.3"/><circle cx="388.82" cy="250.2" r="1.3"/><circle cx="393.37" cy="250.2" r="1.3"/><circle cx="397.92" cy="250.2" r="1.3"/><circle cx="402.47" cy="250.2" r="1.3"/><circle cx="407.02" cy="250.2" r="1.3"/><circle cx="411.57" cy="250.31" r="1.3"/><circle cx="416.12" cy="251.12" r="1.3"/><circle cx="420.68" cy="251.12" r="1.3"/><circle cx="425.23" cy="251.12" r="1.3"/><circle cx="429.78" cy="251.12" r="1.3"/><circle cx="434.33" cy="251.12" r="1.3"/><circle cx="438.88" cy="251.12" r="1.3"/><circle cx="443.43" cy="251.12" r="1.3"/><circle cx="447.98" cy="251.12" r="1.3"/><circle cx="452.53" cy="251.12" r="1.3"/><circle cx="457.08" cy="251.12" r="1.3"/><circle cx="461.63" cy="251.12" r="1.3"/><circle cx="466.19" cy="251.12" r="1.3"/><circle cx="470.74" cy="251.12" r="1.3"/><circle cx="475.29" cy="251.12" r="1.3"/><circle cx="479.84" cy="251.12" r="1.3"/><circle cx="484.39" cy="251.12" r="1.3"/><circle cx="488.94" cy="251.12" r="1.3"/><circle cx="493.49" cy="252.74" r="1.3"/><circle cx="498.04" cy="252.74" r="1.3"/><circle cx="502.59" cy="252.74" r="1.3"/><circle cx="507.14" cy="252.74" r="1.3"/><circle cx="511.7" cy="252.74" r="1.3"/><circle cx="516.25" cy="252.74" r="1.3"/><circle cx="520.8" cy="252.74" r="1.3"/><circle cx="525.35" cy="252.74" r="1.3"/><circle cx="529.9" cy="252.74" r="1.3"/><circle cx="534.45" cy="252.74" r="1.3"/></g>
<polyline points="302.35,24.38 306.9,31.54 311.45,103.81 316,106.81 320.55,117.89 325.1,138.67 329.66,183.24 334.21,207.94 338.76,240.96 343.31,242.81 347.86,242.81 352.41,242.81 356.96,242.81 361.51,243.27 366.06,248.58 370.61,249.04 375.17,248.58 379.72,248.58 384.27,248.58 388.82,250.2 393.37,250.2 397.92,250.2 402.47,250.2 407.02,250.2 411.57,250.31 416.12,251.12 420.68,251.12 425.23,251.12 429.78,251.12 434.33,251.12 438.88,251.12 443.43,251.12 447.98,251.12 452.53,251.12 457.08,251.12 461.63,251.12 466.19,251.12 470.74,251.12 475.29,251.12 479.84,251.12 484.39,251.12 488.94,251.12 493.49,252.74 498.04,252.74 502.59,252.74 507.14,252.74 511.7,252.74 516.25,252.74 520.8,252.74 525.35,252.74 529.9,252.74 534.45,252.74" fill="none" stroke="#ff00ff" stroke-width="0.5" stroke-linejoin="round"/>
<g fill="#ff00ff"><circle cx="302.35" cy="24.38" r="0.95"/><circle cx="306.9" cy="31.54" r="0.95"/><circle cx="311.45" cy="103.81" r="0.95"/><circle cx="316" cy="106.81" r="0.95"/><circle cx="320.55" cy="117.89" r="0.95"/><circle cx="325.1" cy="138.67" r="0.95"/><circle cx="329.66" cy="183.24" r="0.95"/><circle cx="334.21" cy="207.94" r="0.95"/><circle cx="338.76" cy="240.96" r="0.95"/><circle cx="343.31" cy="242.81" r="0.95"/><circle cx="347.86" cy="242.81" r="0.95"/><circle cx="352.41" cy="242.81" r="0.95"/><circle cx="356.96" cy="242.81" r="0.95"/><circle cx="361.51" cy="243.27" r="0.95"/><circle cx="366.06" cy="248.58" r="0.95"/><circle cx="370.61" cy="249.04" r="0.95"/><circle cx="375.17" cy="248.58" r="0.95"/><circle cx="379.72" cy="248.58" r="0.95"/><circle cx="384.27" cy="248.58" r="0.95"/><circle cx="388.82" cy="250.2" r="0.95"/><circle cx="393.37" cy="250.2" r="0.95"/><circle cx="397.92" cy="250.2" r="0.95"/><circle cx="402.47" cy="250.2" r="0.95"/><circle cx="407.02" cy="250.2" r="0.95"/><circle cx="411.57" cy="250.31" r="0.95"/><circle cx="416.12" cy="251.12" r="0.95"/><circle cx="420.68" cy="251.12" r="0.95"/><circle cx="425.23" cy="251.12" r="0.95"/><circle cx="429.78" cy="251.12" r="0.95"/><circle cx="434.33" cy="251.12" r="0.95"/><circle cx="438.88" cy="251.12" r="0.95"/><circle cx="443.43" cy="251.12" r="0.95"/><circle cx="447.98" cy="251.12" r="0.95"/><circle cx="452.53" cy="251.12" r="0.95"/><circle cx="457.08" cy="251.12" r="0.95"/><circle cx="461.63" cy="251.12" r="0.95"/><circle cx="466.19" cy="251.12" r="0.95"/><circle cx="470.74" cy="251.12" r="0.95"/><circle cx="475.29" cy="251.12" r="0.95"/><circle cx="479.84" cy="251.12" r="0.95"/><circle cx="484.39" cy="251.12" r="0.95"/><circle cx="488.94" cy="251.12" r="0.95"/><circle cx="493.49" cy="252.74" r="0.95"/><circle cx="498.04" cy="252.74" r="0.95"/><circle cx="502.59" cy="252.74" r="0.95"/><circle cx="507.14" cy="252.74" r="0.95"/><circle cx="511.7" cy="252.74" r="0.95"/><circle cx="516.25" cy="252.74" r="0.95"/><circle cx="520.8" cy="252.74" r="0.95"/><circle cx="525.35" cy="252.74" r="0.95"/><circle cx="529.9" cy="252.74" r="0.95"/><circle cx="534.45" cy="252.74" r="0.95"/></g>
<polyline points="302.35,24.38 306.9,31.54 311.45,228.03 316,228.49 320.55,233.34 325.1,233.8 329.66,237.27 334.21,237.96 338.76,238.65 343.31,240.73 347.86,242.12 352.41,242.58 356.96,246.27 361.51,248.24 366.06,248.24 370.61,248.24 375.17,249.27 379.72,249.74 384.27,249.97 388.82,250.2 393.37,250.2 397.92,250.2 402.47,250.2 407.02,250.2 411.57,250.31 416.12,251.12 420.68,251.12 425.23,251.12 429.78,251.12 434.33,251.12 438.88,251.12 443.43,251.12 447.98,251.12 452.53,251.12 457.08,251.12 461.63,251.12 466.19,251.12 470.74,251.12 475.29,251.12 479.84,251.12 484.39,251.12 488.94,251.12 493.49,252.74 498.04,252.74 502.59,252.74 507.14,252.74 511.7,252.74 516.25,252.74 520.8,252.74 525.35,252.74 529.9,252.74 534.45,252.74" fill="none" stroke="#0000ff" stroke-width="0.5" stroke-linejoin="round"/>
<g fill="#0000ff"><circle cx="302.35" cy="24.38" r="1.3"/><circle cx="306.9" cy="31.54" r="1.3"/><circle cx="311.45" cy="228.03" r="1.3"/><circle cx="316" cy="228.49" r="1.3"/><circle cx="320.55" cy="233.34" r="1.3"/><circle cx="325.1" cy="233.8" r="1.3"/><circle cx="329.66" cy="237.27" r="1.3"/><circle cx="334.21" cy="237.96" r="1.3"/><circle cx="338.76" cy="238.65" r="1.3"/><circle cx="343.31" cy="240.73" r="1.3"/><circle cx="347.86" cy="242.12" r="1.3"/><circle cx="352.41" cy="242.58" r="1.3"/><circle cx="356.96" cy="246.27" r="1.3"/><circle cx="361.51" cy="248.24" r="1.3"/><circle cx="366.06" cy="248.24" r="1.3"/><circle cx="370.61" cy="248.24" r="1.3"/><circle cx="375.17" cy="249.27" r="1.3"/><circle cx="379.72" cy="249.74" r="1.3"/><circle cx="384.27" cy="249.97" r="1.3"/><circle cx="388.82" cy="250.2" r="1.3"/><circle cx="393.37" cy="250.2" r="1.3"/><circle cx="397.92" cy="250.2" r="1.3"/><circle cx="402.47" cy="250.2" r="1.3"/><circle cx="407.02" cy="250.2" r="1.3"/><circle cx="411.57" cy="250.31" r="1.3"/><circle cx="416.12" cy="251.12" r="1.3"/><circle cx="420.68" cy="251.12" r="1.3"/><circle cx="425.23" cy="251.12" r="1.3"/><circle cx="429.78" cy="251.12" r="1.3"/><circle cx="434.33" cy="251.12" r="1.3"/><circle cx="438.88" cy="251.12" r="1.3"/><circle cx="443.43" cy="251.12" r="1.3"/><circle cx="447.98" cy="251.12" r="1.3"/><circle cx="452.53" cy="251.12" r="1.3"/><circle cx="457.08" cy="251.12" r="1.3"/><circle cx="461.63" cy="251.12" r="1.3"/><circle cx="466.19" cy="251.12" r="1.3"/><circle cx="470.74" cy="251.12" r="1.3"/><circle cx="475.29" cy="251.12" r="1.3"/><circle cx="479.84" cy="251.12" r="1.3"/><circle cx="484.39" cy="251.12" r="1.3"/><circle cx="488.94" cy="251.12" r="1.3"/><circle cx="493.49" cy="252.74" r="1.3"/><circle cx="498.04" cy="252.74" r="1.3"/><circle cx="502.59" cy="252.74" r="1.3"/><circle cx="507.14" cy="252.74" r="1.3"/><circle cx="511.7" cy="252.74" r="1.3"/><circle cx="516.25" cy="252.74" r="1.3"/><circle cx="520.8" cy="252.74" r="1.3"/><circle cx="525.35" cy="252.74" r="1.3"/><circle cx="529.9" cy="252.74" r="1.3"/><circle cx="534.45" cy="252.74" r="1.3"/></g>
<polyline points="302.35,24.38 306.9,145.83 311.45,202.17 316,202.4 320.55,241.42 325.1,241.65 329.66,243.27 334.21,243.96 338.76,243.5 343.31,244.43 347.86,245.81 352.41,247.2 356.96,248.12 361.51,248.58 366.06,249.04 370.61,249.51 375.17,249.74 379.72,249.97 384.27,249.97 388.82,250.2 393.37,250.2 397.92,250.2 402.47,250.2 407.02,250.2 411.57,250.31 416.12,251.12 420.68,251.12 425.23,251.12 429.78,251.12 434.33,251.12 438.88,251.12 443.43,251.12 447.98,251.12 452.53,251.12 457.08,251.12 461.63,251.12 466.19,251.12 470.74,251.12 475.29,251.12 479.84,251.12 484.39,251.12 488.94,251.12 493.49,252.74 498.04,252.74 502.59,252.74 507.14,252.74 511.7,252.74 516.25,252.74 520.8,252.74 525.35,252.74 529.9,252.74 534.45,252.74" fill="none" stroke="#008000" stroke-width="0.5" stroke-linejoin="round"/>
<g fill="#008000"><circle cx="302.35" cy="24.38" r="1.3"/><circle cx="306.9" cy="145.83" r="1.3"/><circle cx="311.45" cy="202.17" r="1.3"/><circle cx="316" cy="202.4" r="1.3"/><circle cx="320.55" cy="241.42" r="1.3"/><circle cx="325.1" cy="241.65" r="1.3"/><circle cx="329.66" cy="243.27" r="1.3"/><circle cx="334.21" cy="243.96" r="1.3"/><circle cx="338.76" cy="243.5" r="1.3"/><circle cx="343.31" cy="244.43" r="1.3"/><circle cx="347.86" cy="245.81" r="1.3"/><circle cx="352.41" cy="247.2" r="1.3"/><circle cx="356.96" cy="248.12" r="1.3"/><circle cx="361.51" cy="248.58" r="1.3"/><circle cx="366.06" cy="249.04" r="1.3"/><circle cx="370.61" cy="249.51" r="1.3"/><circle cx="375.17" cy="249.74" r="1.3"/><circle cx="379.72" cy="249.97" r="1.3"/><circle cx="384.27" cy="249.97" r="1.3"/><circle cx="388.82" cy="250.2" r="1.3"/><circle cx="393.37" cy="250.2" r="1.3"/><circle cx="397.92" cy="250.2" r="1.3"/><circle cx="402.47" cy="250.2" r="1.3"/><circle cx="407.02" cy="250.2" r="1.3"/><circle cx="411.57" cy="250.31" r="1.3"/><circle cx="416.12" cy="251.12" r="1.3"/><circle cx="420.68" cy="251.12" r="1.3"/><circle cx="425.23" cy="251.12" r="1.3"/><circle cx="429.78" cy="251.12" r="1.3"/><circle cx="434.33" cy="251.12" r="1.3"/><circle cx="438.88" cy="251.12" r="1.3"/><circle cx="443.43" cy="251.12" r="1.3"/><circle cx="447.98" cy="251.12" r="1.3"/><circle cx="452.53" cy="251.12" r="1.3"/><circle cx="457.08" cy="251.12" r="1.3"/><circle cx="461.63" cy="251.12" r="1.3"/><circle cx="466.19" cy="251.12" r="1.3"/><circle cx="470.74" cy="251.12" r="1.3"/><circle cx="475.29" cy="251.12" r="1.3"/><circle cx="479.84" cy="251.12" r="1.3"/><circle cx="484.39" cy="251.12" r="1.3"/><circle cx="488.94" cy="251.12" r="1.3"/><circle cx="493.49" cy="252.74" r="1.3"/><circle cx="498.04" cy="252.74" r="1.3"/><circle cx="502.59" cy="252.74" r="1.3"/><circle cx="507.14" cy="252.74" r="1.3"/><circle cx="511.7" cy="252.74" r="1.3"/><circle cx="516.25" cy="252.74" r="1.3"/><circle cx="520.8" cy="252.74" r="1.3"/><circle cx="525.35" cy="252.74" r="1.3"/><circle cx="529.9" cy="252.74" r="1.3"/><circle cx="534.45" cy="252.74" r="1.3"/></g>
<polyline points="302.35,24.38 306.9,31.54 311.45,163.15 316,209.79 320.55,226.88 325.1,229.65 329.66,232.42 334.21,233.11 338.76,245.35 343.31,245.81 347.86,246.27 352.41,247.43 356.96,248.58 361.51,249.27 366.06,249.27 370.61,249.51 375.17,249.97 379.72,249.97 384.27,249.97 388.82,250.43 393.37,250.43 397.92,250.43 402.47,250.43 407.02,250.43 411.57,250.31 416.12,251.01 420.68,251.01 425.23,251.01 429.78,251.01 434.33,251.01 438.88,251.01 443.43,251.01 447.98,251.01 452.53,251.01 457.08,251.01 461.63,251.01 466.19,251.01 470.74,251.01 475.29,251.01 479.84,251.01 484.39,251.01 488.94,251.01 493.49,252.74 498.04,252.74 502.59,252.74 507.14,252.74 511.7,252.74 516.25,252.74 520.8,252.74 525.35,252.74 529.9,252.74 534.45,252.74" fill="none" stroke="#00ffff" stroke-width="0.5" stroke-linejoin="round"/>
<g fill="#00ffff"><circle cx="302.35" cy="24.38" r="1.3"/><circle cx="306.9" cy="31.54" r="1.3"/><circle cx="311.45" cy="163.15" r="1.3"/><circle cx="316" cy="209.79" r="1.3"/><circle cx="320.55" cy="226.88" r="1.3"/><circle cx="325.1" cy="229.65" r="1.3"/><circle cx="329.66" cy="232.42" r="1.3"/><circle cx="334.21" cy="233.11" r="1.3"/><circle cx="338.76" cy="245.35" r="1.3"/><circle cx="343.31" cy="245.81" r="1.3"/><circle cx="347.86" cy="246.27" r="1.3"/><circle cx="352.41" cy="247.43" r="1.3"/><circle cx="356.96" cy="248.58" r="1.3"/><circle cx="361.51" cy="249.27" r="1.3"/><circle cx="366.06" cy="249.27" r="1.3"/><circle cx="370.61" cy="249.51" r="1.3"/><circle cx="375.17" cy="249.97" r="1.3"/><circle cx="379.72" cy="249.97" r="1.3"/><circle cx="384.27" cy="249.97" r="1.3"/><circle cx="388.82" cy="250.43" r="1.3"/><circle cx="393.37" cy="250.43" r="1.3"/><circle cx="397.92" cy="250.43" r="1.3"/><circle cx="402.47" cy="250.43" r="1.3"/><circle cx="407.02" cy="250.43" r="1.3"/><circle cx="411.57" cy="250.31" r="1.3"/><circle cx="416.12" cy="251.01" r="1.3"/><circle cx="420.68" cy="251.01" r="1.3"/><circle cx="425.23" cy="251.01" r="1.3"/><circle cx="429.78" cy="251.01" r="1.3"/><circle cx="434.33" cy="251.01" r="1.3"/><circle cx="438.88" cy="251.01" r="1.3"/><circle cx="443.43" cy="251.01" r="1.3"/><circle cx="447.98" cy="251.01" r="1.3"/><circle cx="452.53" cy="251.01" r="1.3"/><circle cx="457.08" cy="251.01" r="1.3"/><circle cx="461.63" cy="251.01" r="1.3"/><circle cx="466.19" cy="251.01" r="1.3"/><circle cx="470.74" cy="251.01" r="1.3"/><circle cx="475.29" cy="251.01" r="1.3"/><circle cx="479.84" cy="251.01" r="1.3"/><circle cx="484.39" cy="251.01" r="1.3"/><circle cx="488.94" cy="251.01" r="1.3"/><circle cx="493.49" cy="252.74" r="1.3"/><circle cx="498.04" cy="252.74" r="1.3"/><circle cx="502.59" cy="252.74" r="1.3"/><circle cx="507.14" cy="252.74" r="1.3"/><circle cx="511.7" cy="252.74" r="1.3"/><circle cx="516.25" cy="252.74" r="1.3"/><circle cx="520.8" cy="252.74" r="1.3"/><circle cx="525.35" cy="252.74" r="1.3"/><circle cx="529.9" cy="252.74" r="1.3"/><circle cx="534.45" cy="252.74" r="1.3"/></g>
</g>
<rect x="293.1" y="17.45" width="250.4" height="239.95" fill="none" stroke="#a0a0a0" stroke-width="1.0"/>
<line x1="302.35" y1="257.4" x2="302.35" y2="259" stroke="#a0a0a0" stroke-width="0.6"/>
<line x1="293.1" y1="253.2" x2="291.5" y2="253.2" stroke="#a0a0a0" stroke-width="0.6"/>
<text transform="translate(302.35,264) rotate(0.05)" class="tk" text-anchor="middle">0.0</text>
<text transform="translate(291.5,254.9) rotate(0.05)" class="tk" text-anchor="end">0.0</text>
<line x1="348.77" y1="257.4" x2="348.77" y2="259" stroke="#a0a0a0" stroke-width="0.6"/>
<line x1="293.1" y1="207.02" x2="291.5" y2="207.02" stroke="#a0a0a0" stroke-width="0.6"/>
<text transform="translate(348.77,264) rotate(0.05)" class="tk" text-anchor="middle">0.2</text>
<text transform="translate(291.5,208.72) rotate(0.05)" class="tk" text-anchor="end">0.2</text>
<line x1="395.19" y1="257.4" x2="395.19" y2="259" stroke="#a0a0a0" stroke-width="0.6"/>
<line x1="293.1" y1="160.84" x2="291.5" y2="160.84" stroke="#a0a0a0" stroke-width="0.6"/>
<text transform="translate(395.19,264) rotate(0.05)" class="tk" text-anchor="middle">0.4</text>
<text transform="translate(291.5,162.54) rotate(0.05)" class="tk" text-anchor="end">0.4</text>
<line x1="441.61" y1="257.4" x2="441.61" y2="259" stroke="#a0a0a0" stroke-width="0.6"/>
<line x1="293.1" y1="114.66" x2="291.5" y2="114.66" stroke="#a0a0a0" stroke-width="0.6"/>
<text transform="translate(441.61,264) rotate(0.05)" class="tk" text-anchor="middle">0.6</text>
<text transform="translate(291.5,116.36) rotate(0.05)" class="tk" text-anchor="end">0.6</text>
<line x1="488.03" y1="257.4" x2="488.03" y2="259" stroke="#a0a0a0" stroke-width="0.6"/>
<line x1="293.1" y1="68.48" x2="291.5" y2="68.48" stroke="#a0a0a0" stroke-width="0.6"/>
<text transform="translate(488.03,264) rotate(0.05)" class="tk" text-anchor="middle">0.8</text>
<text transform="translate(291.5,70.18) rotate(0.05)" class="tk" text-anchor="end">0.8</text>
<line x1="534.45" y1="257.4" x2="534.45" y2="259" stroke="#a0a0a0" stroke-width="0.6"/>
<line x1="293.1" y1="22.3" x2="291.5" y2="22.3" stroke="#a0a0a0" stroke-width="0.6"/>
<text transform="translate(534.45,264) rotate(0.05)" class="tk" text-anchor="middle">1.0</text>
<text transform="translate(291.5,24) rotate(0.05)" class="tk" text-anchor="end">1.0</text>
<text transform="translate(418.3,11.9) rotate(0.05)" class="bd" text-anchor="middle">(b)</text>
<text transform="translate(418.3,271.9) rotate(0.05)" class="bd" text-anchor="middle">Proportion of removed stations</text>
<text transform="translate(281.2,137.92) rotate(-90)" class="bd" text-anchor="middle">Ratio of maximum weakly connected subgraph</text>
<rect x="398.6" y="21.6" width="141.7" height="77.2" rx="1.8" fill="#ffffff" fill-opacity="0.8" stroke="#d0d0d0" stroke-width="0.6"/>
<line x1="401.1" y1="27.45" x2="416.9" y2="27.45" stroke="#000000" stroke-width="0.5"/>
<circle cx="409" cy="27.45" r="1.3" fill="#000000"/>
<text transform="translate(423,30.15) rotate(0.05)" class="bd">Average distribution</text>
<line x1="401.1" y1="38.15" x2="416.9" y2="38.15" stroke="#ffa500" stroke-width="0.5"/>
<circle cx="409" cy="38.15" r="1.3" fill="#ffa500"/>
<text transform="translate(423,40.85) rotate(0.05)" class="bd">Initial load distribution</text>
<line x1="401.1" y1="48.85" x2="416.9" y2="48.85" stroke="#ff0000" stroke-width="0.5"/>
<circle cx="409" cy="48.85" r="1.3" fill="#ff0000"/>
<text transform="translate(423,51.55) rotate(0.05)" class="bd">Degree distribution</text>
<line x1="401.1" y1="59.55" x2="416.9" y2="59.55" stroke="#ff00ff" stroke-width="0.5"/>
<circle cx="409" cy="59.55" r="0.95" fill="#ff00ff"/>
<text transform="translate(423,62.25) rotate(0.05)" class="bd">Strength distribution</text>
<line x1="401.1" y1="70.25" x2="416.9" y2="70.25" stroke="#0000ff" stroke-width="0.5"/>
<circle cx="409" cy="70.25" r="1.3" fill="#0000ff"/>
<text transform="translate(423,72.95) rotate(0.05)" class="bd">Clustering coefficient distribution</text>
<line x1="401.1" y1="80.95" x2="416.9" y2="80.95" stroke="#008000" stroke-width="0.5"/>
<circle cx="409" cy="80.95" r="1.3" fill="#008000"/>
<text transform="translate(423,83.65) rotate(0.05)" class="bd">Betweenness centrality distribution</text>
<line x1="401.1" y1="91.65" x2="416.9" y2="91.65" stroke="#00ffff" stroke-width="0.5"/>
<circle cx="409" cy="91.65" r="1.3" fill="#00ffff"/>
<text transform="translate(423,94.35) rotate(0.05)" class="bd">Importance degree distribution</text>
</g>
</svg>
</body></html>
